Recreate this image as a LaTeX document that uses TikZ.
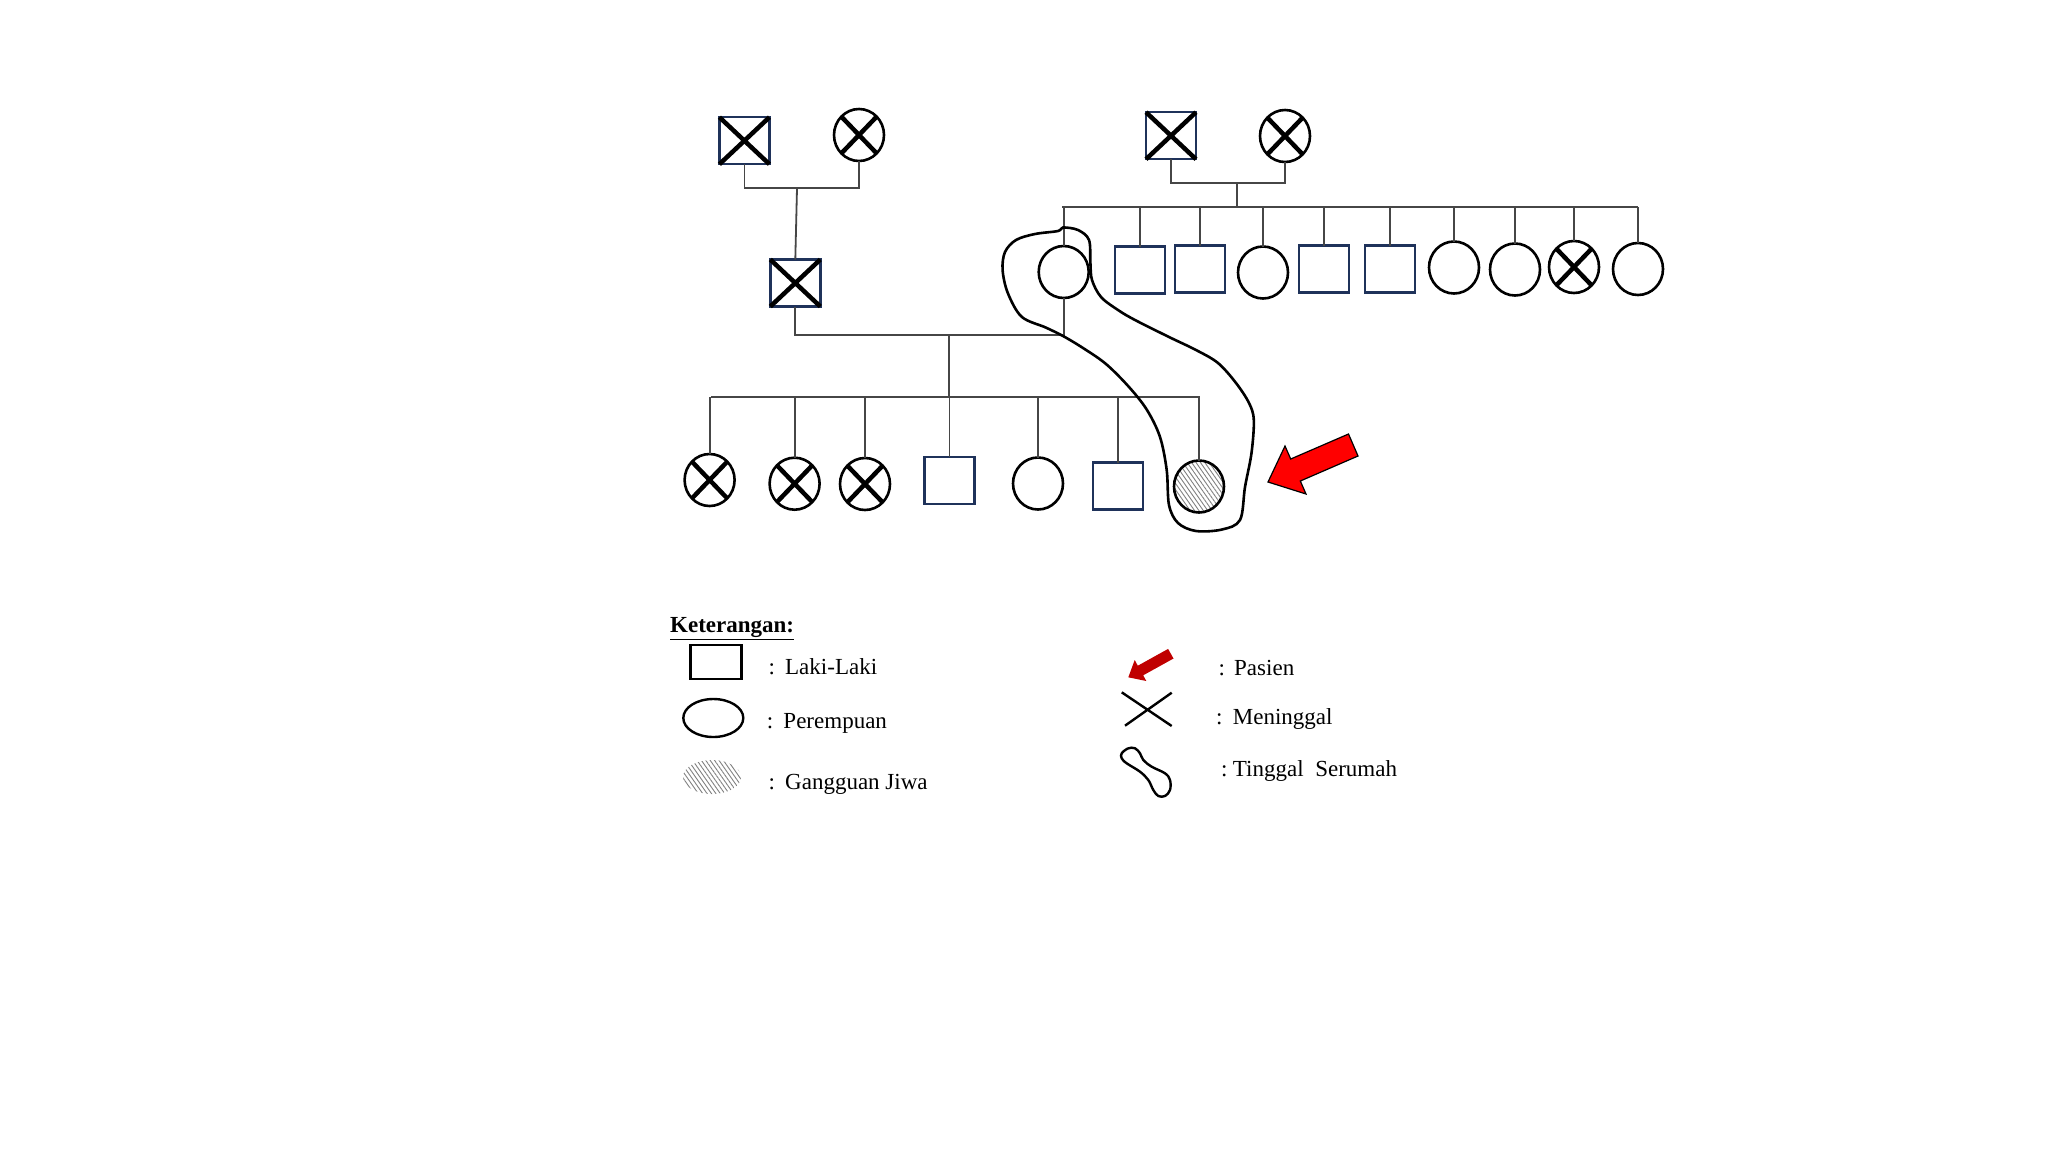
\documentclass[tikz,border=0pt]{standalone}
\usepackage{fontspec}
\setmainfont{Liberation Serif}
\usetikzlibrary{shapes.geometric,patterns.meta,calc}
\definecolor{navy}{RGB}{31,50,90}
\definecolor{lnc}{RGB}{70,70,70}
\definecolor{darkred}{RGB}{192,0,0}
\newcommand\deadmark[1]{\draw[xm] (#1.north west) -- (#1.south east) (#1.north east) -- (#1.south west);}
\begin{document}
\begin{tikzpicture}[x=1pt,y=-1pt,
  male/.style={rectangle, draw=navy, line width=2.4pt, minimum width=50pt, minimum height=47pt, inner sep=0pt, outer sep=0pt},
  female/.style={ellipse, draw=black, line width=2.6pt, minimum width=50pt, minimum height=52pt, inner sep=0pt, outer sep=0pt},
  hatch/.style={pattern={Lines[angle=-55,distance=3.6pt,line width=0.9pt]}, pattern color=gray},
  pl/.style={draw=lnc, line width=1.8pt},
  xm/.style={line width=4.5pt, black},
  lbl/.style={anchor=base west, inner sep=0pt, font=\fontsize{23}{27}\selectfont}]
\fill[white] (0,0) rectangle (2048,1152);
\useasboundingbox (0,0) rectangle (2048,1152);

% generation I
\node[male] (gf1) at (744.4,140.7) {};
\node[female] (gm1) at (859,135) {};
\node[male] (gf2) at (1171,135.7) {};
\node[female] (gm2) at (1285,136) {};
\deadmark{gf1}\deadmark{gm1}\deadmark{gf2}\deadmark{gm2}

% generation II
\node[male] (fa) at (795.3,283) {};
\node[female] (mo) at (1063.7,272) {};
\node[male] (a2) at (1140,270) {};
\node[male] (a3) at (1200,269) {};
\node[female] (a4) at (1263,272.5) {};
\node[male] (a5) at (1324,269) {};
\node[male] (a6) at (1390,269) {};
\node[female] (a7) at (1454,267.5) {};
\node[female] (a8) at (1515,269.5) {};
\node[female] (a9) at (1574,267) {};
\node[female] (a10) at (1638,269) {};
\deadmark{fa}\deadmark{a9}

% generation III
\node[female] (k1) at (709.6,480) {};
\node[female] (k2) at (794.6,483.7) {};
\node[female] (k3) at (865,484) {};
\node[male] (k4) at (949.5,480.7) {};
\node[female] (k5) at (1038,483.5) {};
\node[male] (k6) at (1118,486) {};
\node[female, hatch] (k7) at (1199,486.5) {};
\deadmark{k1}\deadmark{k2}\deadmark{k3}

% connectors
\coordinate (c1) at (797,188.3);
\coordinate (c2) at (1237,183.3);
\coordinate (s2L) at (1062,206.7);
\coordinate (s2R) at (1638,206.7);
\coordinate (c3) at (949.3,335);
\coordinate (s3L) at (711,396.7);
\coordinate (s3R) at (1200,396.7);

\draw[pl] (gf1.south) |- (c1) -| (gm1.south);
\draw[pl] (c1) -- (fa.north);
\draw[pl] (gf2.south) |- (c2) -| (gm2.south);
\draw[pl] (c2) -- (c2 |- s2L);
\draw[pl] (s2L) -- (s2R);
\foreach \n in {mo,a2,a3,a4,a5,a6,a7,a8,a9,a10}{\draw[pl] (\n.north) -- (\n.north |- s2L);}
\draw[pl] (fa.south) |- (c3) -| (mo.south);
\draw[pl] (c3) -- (c3 |- s3L);
\draw[pl] (s3L) -- (s3R);
\foreach \n in {k1,k2,k3,k4,k5,k6,k7}{\draw[pl] (\n.north) -- (\n.north |- s3L);}

% household loop
\draw[line width=2.6pt, black] plot[smooth cycle, tension=0.55] coordinates {
 (1058,231) (1035,234) (1016,240) (1005,252) (1002.6,270) (1007.8,293) (1021.6,316.7)
 (1045.7,327.5) (1063,336) (1083,348) (1106,364) (1129,387) (1147,410) (1160,437)
 (1166.7,470) (1169,505) (1178,523) (1196,531) (1222,529.5) (1240,520) (1245,487)
 (1251.5,453) (1253.8,420) (1249,403) (1236,383) (1218,363) (1196,350) (1169,337)
 (1135,320) (1118,310) (1101,297) (1092,280) (1090.4,263) (1089,240) (1078,230) (1063,227.5)};

% patient arrow
\filldraw[fill=red, draw=black, line width=1.2pt, line join=miter]
 (1268,482) -- (1285,446) -- (1290.7,459) -- (1348.5,434) -- (1358,456) -- (1300.3,481) -- (1306,494) -- cycle;

% legend
\node[lbl] (ket) at (670,632.3) {\underline{\textbf{Keterangan:}}};
\node[rectangle, draw=black, line width=2.2pt, minimum width=51pt, minimum height=34pt, inner sep=0pt] (lsq) at (716,662) {};
\node[lbl] (lt1) at (768.3,674) {:\hspace{10.3pt}Laki-Laki};
\node[ellipse, draw=black, line width=2.4pt, minimum width=60pt, minimum height=38pt, inner sep=0pt] (lel) at (713.3,718) {};
\node[lbl] (lt2) at (766.7,728.3) {:\hspace{10.2pt}Perempuan};
\node[ellipse, hatch, minimum width=58pt, minimum height=34pt, inner sep=0pt] (lha) at (712,777) {};
\node[lbl] (lt3) at (768.3,789.3) {:\hspace{10.3pt}Gangguan Jiwa};

\fill[darkred] (1128.3,677.3) -- (1134.7,660) -- (1137.8,665.7) -- (1168.1,648.9) -- (1173.5,658.5) -- (1143.2,675.3) -- (1146.3,681) -- cycle;
\node[lbl] (lt4) at (1218.3,675) {:\hspace{9.3pt}Pasien};
\draw[line width=2.4pt] (1121.7,692.3) -- (1171.7,726) (1125,725.7) -- (1171.7,692.7);
\node[lbl] (lt5) at (1216,724) {:\hspace{10.3pt}Meninggal};
\draw[line width=2.4pt] plot[smooth cycle, tension=0.6] coordinates {
 (1121.7,753.3) (1128.3,748.3) (1135,748.3) (1140,753.3) (1143.3,760) (1151.7,766.7)
 (1165,773.3) (1170,780) (1170,790) (1165,796) (1158.3,796) (1153.3,790) (1148.3,780)
 (1140,771.7) (1126.7,763.3) (1121.7,758.3)};
\node[lbl] (lt6) at (1221,776.7) {:\hspace{5.3pt}Tinggal\hspace{11.7pt}Serumah};
\end{tikzpicture}
\end{document}
